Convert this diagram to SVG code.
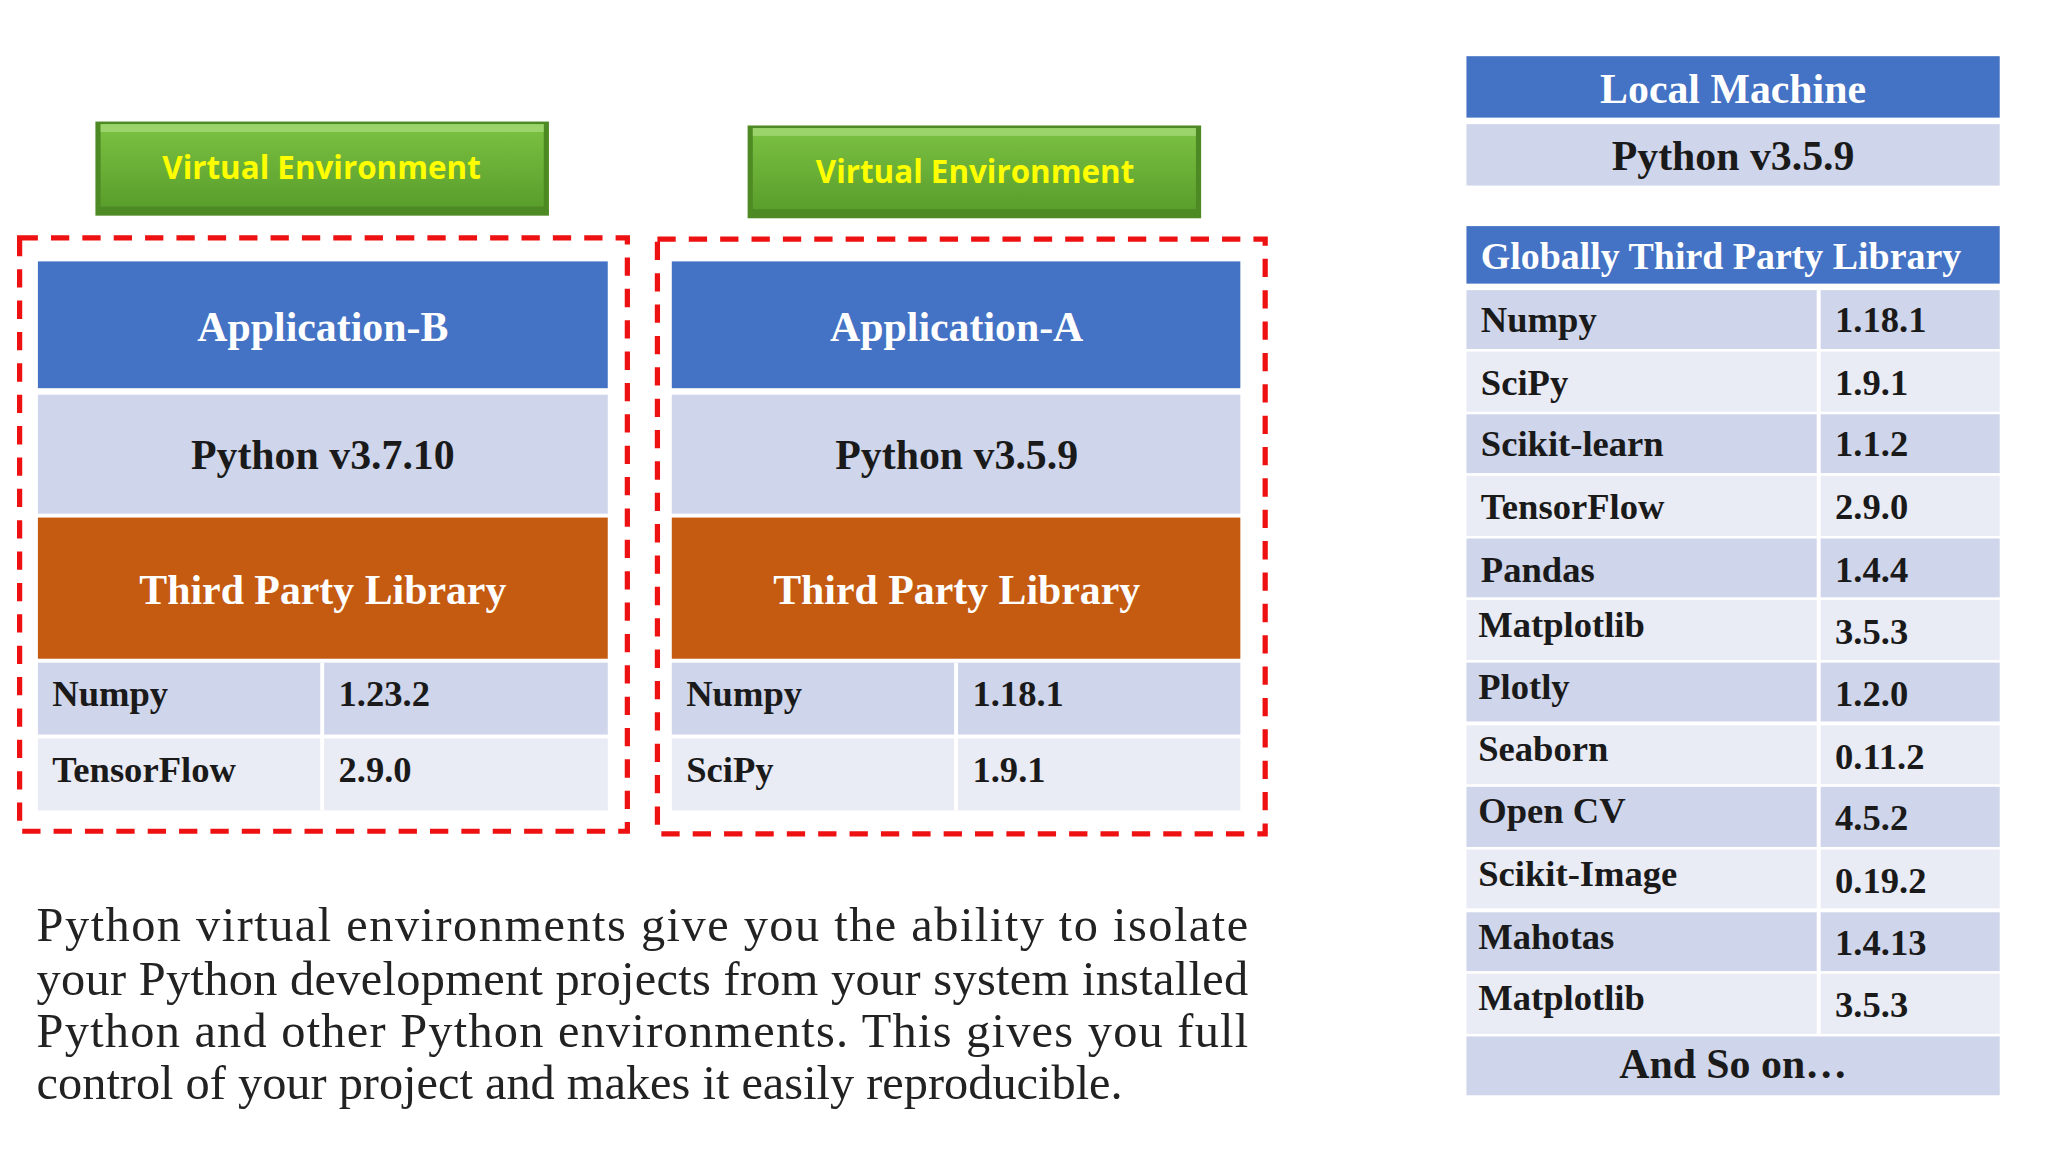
<svg xmlns="http://www.w3.org/2000/svg" width="2048" height="1152" viewBox="0 0 2048 1152">
<defs>
<linearGradient id="g" x1="0" y1="0" x2="0" y2="1"><stop offset="0" stop-color="#7cc242"/><stop offset="1" stop-color="#5a9e2c"/></linearGradient>
<style>
.t{font-family:"Liberation Serif","Times New Roman",serif;font-weight:bold}
.w{fill:#fff;font-size:32px;text-anchor:middle}
.k{fill:#1a1a1a}
.blue{fill:#4472C4}.d{fill:#CFD5EA}.l{fill:#E9EBF5}.o{fill:#C55A11}
.ve{font-family:"Open Sans","Noto Sans",sans-serif;font-weight:bold;font-size:24px;fill:#ffff00;text-anchor:middle}
.dash{fill:none;stroke:#ee1111;stroke-width:4;stroke-dasharray:14 10}
.p{font-family:"Liberation Serif","Times New Roman",serif;font-size:37px;fill:#222}
</style>
</defs>
<rect width="2048" height="1152" fill="#fff"/>
<g transform="scale(1.307)">
<g id="ve-b">
<rect x="73" y="93" width="347" height="72" fill="#4e8a24"/>
<rect x="77" y="95" width="339" height="63" fill="url(#g)"/>
<rect x="77" y="95" width="339" height="6" fill="#9ad46a"/>
<text class="ve" x="246" y="137">Virtual Environment</text>
</g>
<g id="ve-a">
<rect x="572" y="96" width="347" height="71" fill="#4e8a24"/>
<rect x="576" y="98" width="339" height="62" fill="url(#g)"/>
<rect x="576" y="98" width="339" height="6" fill="#9ad46a"/>
<text class="ve" x="746" y="140">Virtual Environment</text>
</g>
<g id="env-b">
<rect class="dash" x="15" y="182" width="465" height="454"/>
<rect class="blue" x="29" y="200" width="436" height="97"/>
<text class="t w" x="247" y="261">Application-B</text>
<rect class="d" x="29" y="302" width="436" height="91"/>
<text class="t k" x="247" y="359" font-size="32" text-anchor="middle">Python v3.7.10</text>
<rect class="o" x="29" y="396" width="436" height="108"/>
<text class="t w" x="247" y="462">Third Party Library</text>
<rect class="d" x="29" y="507" width="436" height="55"/>
<rect class="l" x="29" y="565" width="436" height="55"/>
<rect x="245" y="507" width="3" height="113" fill="#fff"/>
<text class="t k" x="40" y="540" font-size="28">Numpy</text>
<text class="t k" x="259" y="540" font-size="28">1.23.2</text>
<text class="t k" x="40" y="598" font-size="28">TensorFlow</text>
<text class="t k" x="259" y="598" font-size="28">2.9.0</text>
</g>
<g id="env-a">
<rect class="dash" x="503" y="183" width="465" height="455"/>
<rect class="blue" x="514" y="200" width="435" height="97"/>
<text class="t w" x="732" y="261">Application-A</text>
<rect class="d" x="514" y="302" width="435" height="91"/>
<text class="t k" x="732" y="359" font-size="32" text-anchor="middle">Python v3.5.9</text>
<rect class="o" x="514" y="396" width="435" height="108"/>
<text class="t w" x="732" y="462">Third Party Library</text>
<rect class="d" x="514" y="507" width="435" height="55"/>
<rect class="l" x="514" y="565" width="435" height="55"/>
<rect x="730" y="507" width="3" height="113" fill="#fff"/>
<text class="t k" x="525" y="540" font-size="28">Numpy</text>
<text class="t k" x="744" y="540" font-size="28">1.18.1</text>
<text class="t k" x="525" y="598" font-size="28">SciPy</text>
<text class="t k" x="744" y="598" font-size="28">1.9.1</text>
</g>
<g id="desc">
<text class="p" x="28" y="720" textLength="927" lengthAdjust="spacing">Python virtual environments give you the ability to isolate</text>
<text class="p" x="28" y="761" textLength="927" lengthAdjust="spacing">your Python development projects from your system installed</text>
<text class="p" x="28" y="801" textLength="927" lengthAdjust="spacing">Python and other Python environments. This gives you full</text>
<text class="p" x="28" y="841">control of your project and makes it easily reproducible.</text>
</g>
<g id="local">
<rect class="blue" x="1122" y="43" width="408" height="47"/>
<text class="t w" x="1326" y="79">Local Machine</text>
<rect class="d" x="1122" y="95" width="408" height="47"/>
<text class="t k" x="1326" y="130" font-size="32" text-anchor="middle">Python v3.5.9</text>
</g>
<g id="global" class="t k" font-size="28">
<rect class="blue" x="1122" y="173" width="408" height="44"/>
<text class="t" x="1133" y="206" font-size="29" fill="#fff">Globally Third Party Library</text>
<rect class="d" x="1122" y="222" width="408" height="45"/>
<rect class="l" x="1122" y="269" width="408" height="46"/>
<rect class="d" x="1122" y="317" width="408" height="45"/>
<rect class="l" x="1122" y="364" width="408" height="46"/>
<rect class="d" x="1122" y="412" width="408" height="45"/>
<rect class="l" x="1122" y="459" width="408" height="46"/>
<rect class="d" x="1122" y="507" width="408" height="45"/>
<rect class="l" x="1122" y="555" width="408" height="45"/>
<rect class="d" x="1122" y="602" width="408" height="46"/>
<rect class="l" x="1122" y="650" width="408" height="45"/>
<rect class="d" x="1122" y="698" width="408" height="45"/>
<rect class="l" x="1122" y="745" width="408" height="46"/>
<rect class="d" x="1122" y="793" width="408" height="45"/>
<rect x="1390" y="222" width="3" height="569" fill="#fff"/>
<text x="1133" y="254">Numpy</text><text x="1404" y="254">1.18.1</text>
<text x="1133" y="302">SciPy</text><text x="1404" y="302">1.9.1</text>
<text x="1133" y="349">Scikit-learn</text><text x="1404" y="349">1.1.2</text>
<text x="1133" y="397">TensorFlow</text><text x="1404" y="397">2.9.0</text>
<text x="1133" y="445">Pandas</text><text x="1404" y="445">1.4.4</text>
<text x="1131" y="487">Matplotlib</text><text x="1404" y="493">3.5.3</text>
<text x="1131" y="535">Plotly</text><text x="1404" y="540">1.2.0</text>
<text x="1131" y="582">Seaborn</text><text x="1404" y="588">0.11.2</text>
<text x="1131" y="630">Open CV</text><text x="1404" y="635">4.5.2</text>
<text x="1131" y="678">Scikit-Image</text><text x="1404" y="683">0.19.2</text>
<text x="1131" y="726">Mahotas</text><text x="1404" y="731">1.4.13</text>
<text x="1131" y="773">Matplotlib</text><text x="1404" y="778">3.5.3</text>
<text x="1326" y="825" font-size="32" text-anchor="middle">And So on…</text>
</g>
</g>
</svg>
